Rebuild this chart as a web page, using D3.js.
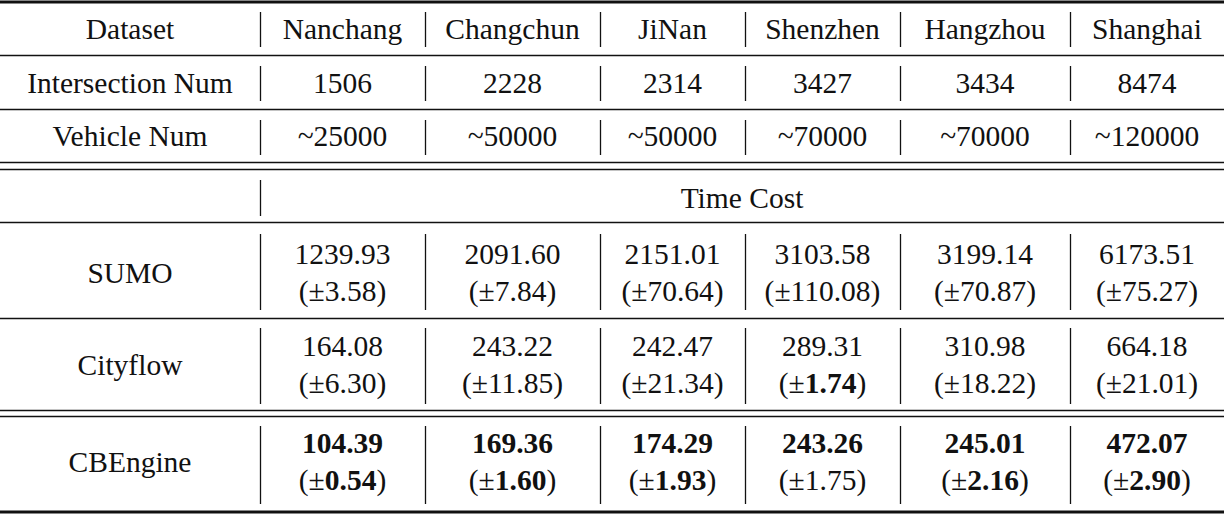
<!DOCTYPE html>
<html><head><meta charset="utf-8">
<script src="https://cdn.jsdelivr.net/npm/d3@7"></script>
<style>body{margin:0;background:#fff}</style>
</head><body><div id="table"></div>
<script>
// table data
var cities = ["Nanchang", "Changchun", "JiNan", "Shenzhen", "Hangzhou", "Shanghai"];
var intersections = ["1506", "2228", "2314", "3427", "3434", "8474"];
var vehicles = ["~25000", "~50000", "~50000", "~70000", "~70000", "~120000"];
var engines = ["SUMO", "Cityflow", "CBEngine"];
var means = [
  ["1239.93", "2091.60", "2151.01", "3103.58", "3199.14", "6173.51"],
  ["164.08", "243.22", "242.47", "289.31", "310.98", "664.18"],
  ["104.39", "169.36", "174.29", "243.26", "245.01", "472.07"]
];
var stds = [
  ["3.58", "7.84", "70.64", "110.08", "70.87", "75.27"],
  ["6.30", "11.85", "21.34", "1.74", "18.22", "21.01"],
  ["0.54", "1.60", "1.93", "1.75", "2.16", "2.90"]
];
var meanBold = [[0,0,0,0,0,0],[0,0,0,0,0,0],[1,1,1,1,1,1]];
var stdBold = [[0,0,0,0,0,0],[0,0,0,1,0,0],[1,1,1,0,1,1]];

var width = 1224, height = 514;
var svg = d3.select("#table").append("svg").attr("width", width).attr("height", height);

// column boundaries
var edges = [0, 260, 425, 600, 745, 900, 1070, 1224];
var colX = i => (edges[i] + edges[i + 1]) / 2;

var font = "'Liberation Serif', serif";
function txt(x, y, s, bold) {
  return svg.append("text").attr("x", x).attr("y", y).attr("text-anchor", "middle")
    .attr("dominant-baseline", "central").attr("font-family", font).attr("font-size", 29.5)
    .attr("font-weight", bold ? "bold" : "normal").attr("fill", "#111").text(s);
}
function hline(y, w) {
  svg.append("line").attr("x1", 0).attr("x2", width).attr("y1", y).attr("y2", y)
    .attr("stroke", "#111").attr("stroke-width", w);
}
function vline(x, y1, y2) {
  svg.append("line").attr("x1", x).attr("x2", x).attr("y1", y1).attr("y2", y2)
    .attr("stroke", "#111").attr("stroke-width", 1.3);
}

// horizontal rules
hline(2, 3); hline(55.5, 1.3); hline(109.5, 1.3); hline(162.5, 1.3); hline(169.5, 1.3);
hline(222.5, 1.3); hline(318.5, 1.3); hline(410.5, 1.3); hline(416.5, 1.3); hline(512, 3);

// vertical separators
var bands = [[12, 47], [66, 101], [120, 155], [180, 216], [234, 310], [328, 404], [426, 504]];
bands.forEach(function(b, bi) {
  var xs = bi == 3 ? [edges[1]] : edges.slice(1, 7);
  xs.forEach(x => vline(x + 0.5, b[0], b[1]));
});

// header rows
txt(colX(0), 29, "Dataset");
txt(colX(0), 83, "Intersection Num");
txt(colX(0), 136, "Vehicle Num");
cities.forEach((c, i) => {
  txt(colX(i + 1), 29, c);
  txt(colX(i + 1), 83, intersections[i]);
  txt(colX(i + 1), 136, vehicles[i]);
});
txt((edges[1] + width) / 2, 198, "Time Cost");

// engine rows
var rowY = [[254, 291], [346, 383], [443, 480]];
engines.forEach((e, r) => {
  txt(colX(0), (rowY[r][0] + rowY[r][1]) / 2, e);
  means[r].forEach((m, i) => {
    txt(colX(i + 1), rowY[r][0], m, meanBold[r][i]);
    var t = txt(colX(i + 1), rowY[r][1], "");
    t.append("tspan").text("(±");
    t.append("tspan").attr("font-weight", stdBold[r][i] ? "bold" : "normal").text(stds[r][i]);
    t.append("tspan").text(")");
  });
});
</script></body></html>
